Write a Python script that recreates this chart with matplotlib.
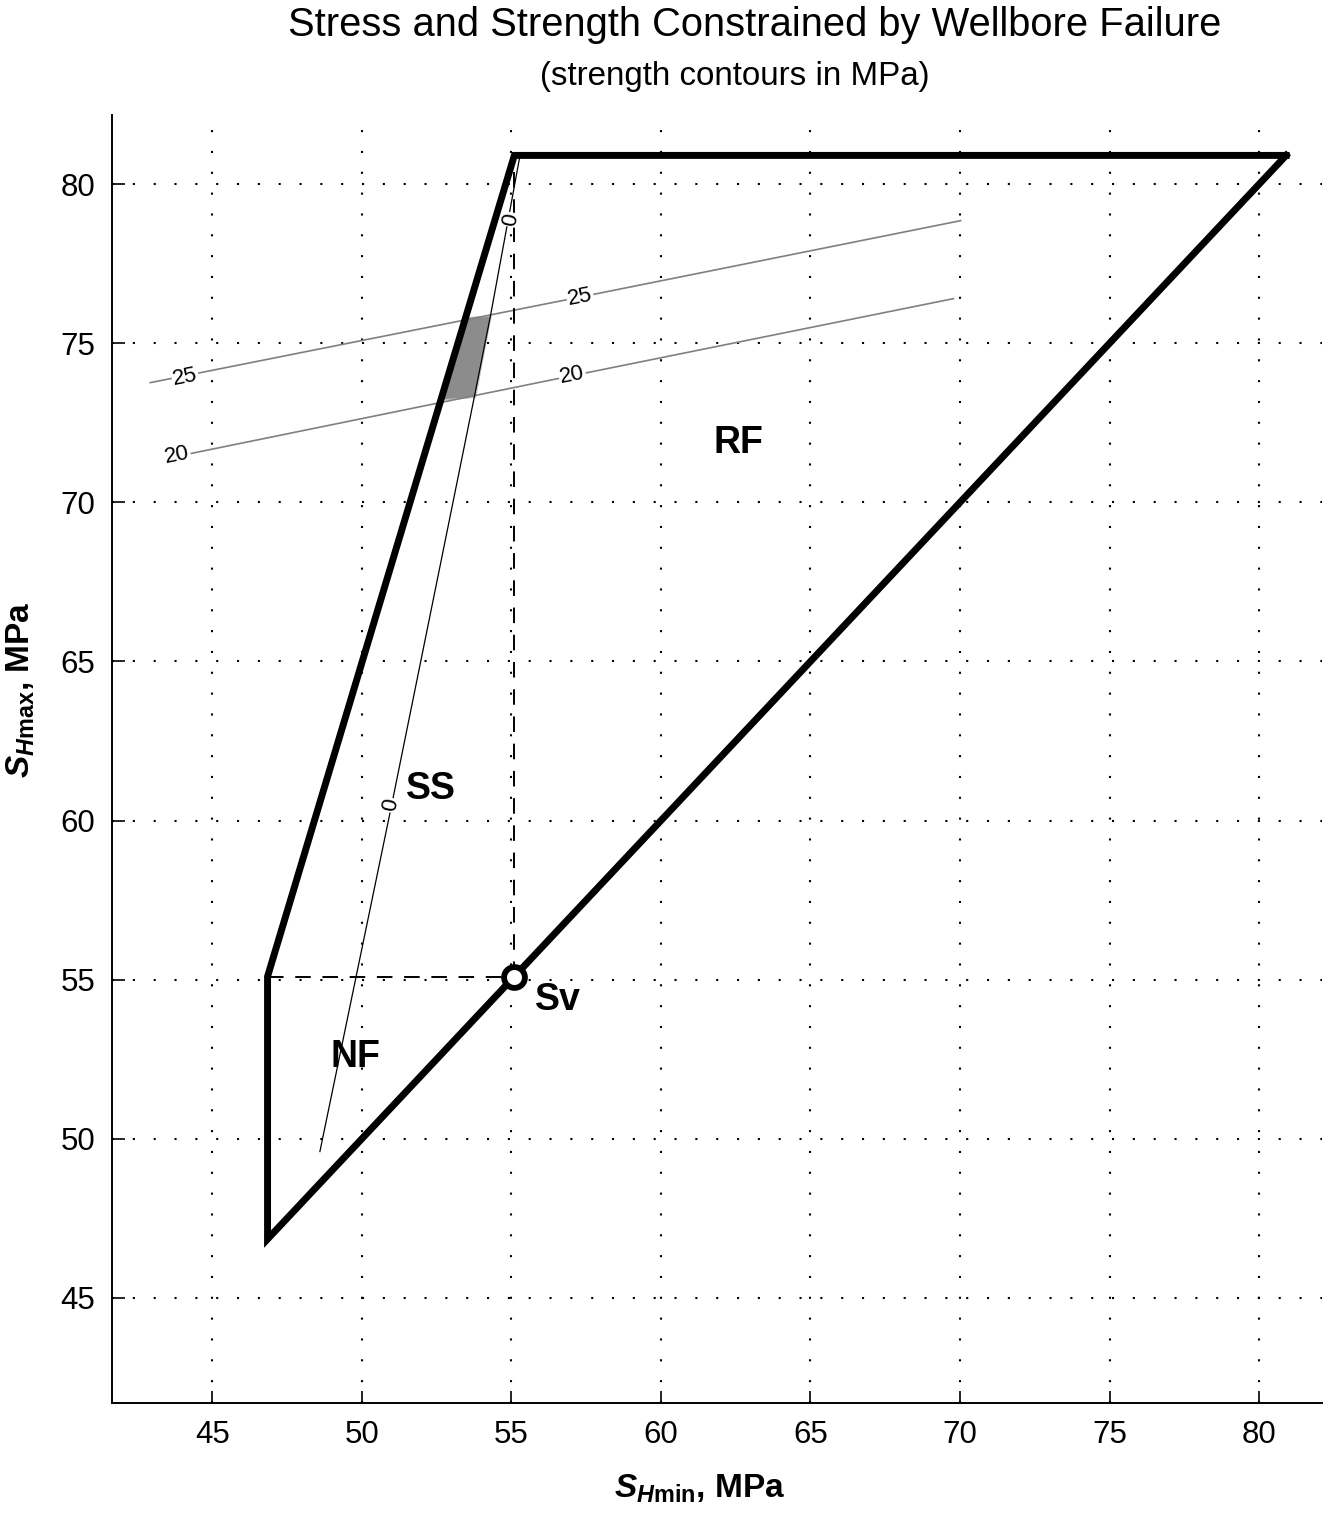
import matplotlib
matplotlib.use("Agg")
import matplotlib.pyplot as plt

plt.rcParams['font.family'] = ['Liberation Sans', 'DejaVu Sans']
plt.rcParams['mathtext.fontset'] = 'custom'
plt.rcParams['mathtext.rm'] = 'Liberation Sans'
plt.rcParams['mathtext.it'] = 'Liberation Sans:italic'
plt.rcParams['mathtext.bf'] = 'Liberation Sans:bold'
plt.rcParams['mathtext.bfit'] = 'Liberation Sans:italic:bold'

# stress polygon (allowable region), MPa
poly_x = [80.9, 46.85, 46.85, 55.1, 80.9]
poly_y = [80.9, 46.85, 55.1, 80.9, 80.9]
sv = 55.1

# strength contours
c0_x = [48.6, 51.0, 53.76, 54.3, 55.3]
c0_y = [49.6, 60.5, 73.3, 75.85, 80.95]
c25_x = [42.93, 57.3, 70.02]
c25_y = [73.76, 76.45, 78.85]
c20_x = [43.43, 57.04, 69.78]
c20_y = [71.37, 73.98, 76.4]

# contour label spots (x, y, text, angle)
clabels = [(44.1, 73.92, '25', 11.3), (57.3, 76.43, '25', 11.3),
           (43.83, 71.47, '20', 11.3), (57.04, 73.98, '20', 11.3),
           (50.99, 60.48, '0', 79), (55.0, 78.88, '0', 79)]

# shaded feasible patch
shade_x = [53.5, 54.32, 53.8, 52.72]
shade_y = [75.8, 75.85, 73.3, 73.22]

regions = [(62.6, 71.85, 'RF'), (52.3, 61.0, 'SS'), (49.8, 52.57, 'NF'), (56.55, 54.36, 'Sv')]

ticks = [45, 50, 55, 60, 65, 70, 75, 80]

fig = plt.figure(figsize=(13.24, 15.17), dpi=100)
ax = fig.add_axes([112/1324, 1 - 1403/1517, 1210/1324, 1288/1517])

ax.grid(True, color='black', linestyle=(0, (1, 9)), linewidth=1.5)
ax.set_axisbelow(True)

ax.fill(shade_x, shade_y, facecolor='#8c8c8c', edgecolor='#c0c0c0', linewidth=1.0, zorder=2)

ax.plot(c25_x, c25_y, color='#808080', linewidth=1.2, zorder=3)
ax.plot(c20_x, c20_y, color='#808080', linewidth=1.2, zorder=3)
ax.plot(c0_x, c0_y, color='black', linewidth=0.9, zorder=3)

for x, y, t, a in clabels:
    ax.text(x, y, t, fontsize=16, rotation=a, ha='center', va='center',
            rotation_mode='anchor', zorder=4,
            bbox=dict(facecolor='white', edgecolor='none', pad=0.8))

ax.plot([poly_x[2], sv], [sv, sv], color='black', linewidth=1.4,
        linestyle=(0, (8, 6)), zorder=3)
ax.plot([sv, sv], [sv, poly_y[3]], color='black', linewidth=1.4,
        linestyle=(0, (8, 6)), zorder=3)

ax.plot(poly_x, poly_y, color='black', linewidth=5, solid_joinstyle='miter', zorder=5)
ax.plot([sv], [sv], marker='o', markersize=15, markerfacecolor='white',
        markeredgecolor='black', markeredgewidth=4.2, zorder=6)

for x, y, t in regions:
    ax.text(x, y, t, fontsize=27, fontweight='bold', ha='center', va='center', zorder=7)

ax.set_xlim(41.65, 82.1)
ax.set_ylim(41.7, 82.17)
ax.set_xticks(ticks)
ax.set_yticks(ticks)
ax.tick_params(direction='in', length=9, width=1.2, labelsize=22.5, pad=12)
ax.spines['top'].set_visible(False)
ax.spines['right'].set_visible(False)
for s in ['left', 'bottom']:
    ax.spines[s].set_linewidth(1.4)

ax.set_xlabel(r'$\mathbfit{S}_{\mathbfit{H}\mathbf{min}}$, MPa', fontsize=24, fontweight='bold')
ax.set_ylabel(r'$\mathbfit{S}_{\mathbfit{H}\mathbf{max}}$, MPa', fontsize=24, fontweight='bold')
ax.xaxis.set_label_coords(0.486, -0.054)
ax.yaxis.set_label_coords(-0.062, 0.554)

fig.text(755/1324, 1 - 25/1517, 'Stress and Strength Constrained by Wellbore Failure',
         fontsize=28.7, ha='center', va='center')
fig.text(735/1324, 1 - 77/1517, '(strength contours in MPa)',
         fontsize=23.9, ha='center', va='center')

fig.savefig('out.png', dpi=100)
